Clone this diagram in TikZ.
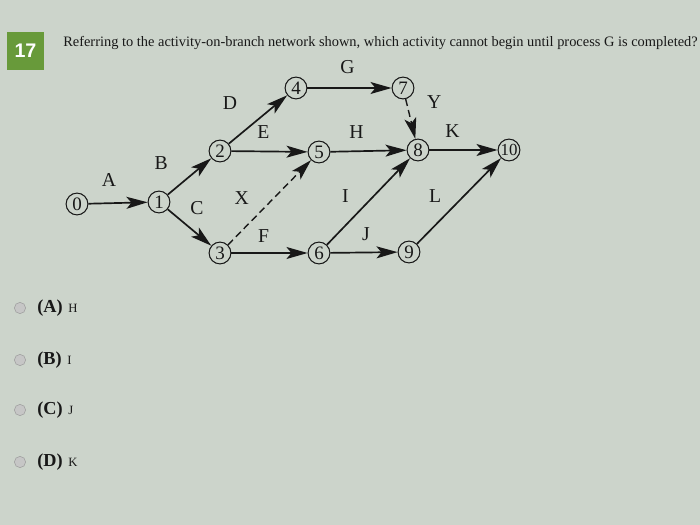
\documentclass[tikz,border=0pt]{standalone}
\usepackage{fontspec}
\setmainfont{Liberation Serif}
\newfontfamily\qsans{Liberation Sans}
\usepackage{xcolor}
\usetikzlibrary{positioning}
\usetikzlibrary{arrows.meta}
\definecolor{photobg}{RGB}{204,212,203}
\definecolor{qgreen}{RGB}{104,154,58}
\definecolor{ink}{RGB}{24,24,24}

\begin{document}
\begin{tikzpicture}[x=0.025cm, y=-0.025cm, auto,
        event/.style={circle, draw=ink, line width=0.75pt, minimum size=15.5pt, inner sep=0pt, text=ink, font=\fontsize{13.5}{13.5}\selectfont},
        activity/.style={draw=ink, line width=1.2pt, -{Stealth[length=15pt, width=8.5pt, inset=3.5pt]}},
        dummy/.style={activity, line width=1pt, dash pattern=on 5pt off 3pt},
        actlabel/.style={text=ink, font=\fontsize{14}{14}\selectfont, inner sep=0pt},
        radio/.style={circle, draw=gray!75, fill=gray!45, minimum size=8pt, inner sep=0pt},
        choice/.style={anchor=west, text=ink, inner sep=0pt, font=\fontsize{13}{13}\selectfont\bfseries}]
        \fill[photobg] (0,0) rectangle (700,525);

        % question header
        \node[fill=qgreen, text=white, minimum size=0.93cm, inner sep=0pt, font=\qsans\fontsize{14}{14}\selectfont\bfseries] (qnum) at (25.5,51) {17};
        \node[anchor=base west, text=ink, inner sep=0pt, font=\fontsize{10.25}{11}\selectfont] (question) at (63,47) {Referring to the activity-on-branch network shown, which activity cannot begin until process G is completed?};

        % events
        \node[event] (ev_0) at (77,204) {0};
        \node[event] (ev_1) at (159,202) {1};
        \node[event] (ev_2) at (220,151) {2};
        \node[event] (ev_3) at (220,253) {3};
        \node[event] (ev_4) at (296,88) {4};
        \node[event] (ev_5) at (319,152) {5};
        \node[event] (ev_6) at (319,253) {6};
        \node[event] (ev_7) at (403,88) {7};
        \node[event] (ev_8) at (418,150) {8};
        \node[event] (ev_9) at (409,252) {9};
        \node[event, font=\fontsize{12}{12}\selectfont] (ev_10) at (509,150) {10};

        % activities
        \draw[activity] (ev_0) -- (ev_1) node[actlabel, midway, shift={(-9,-16)}] {A};
        \draw[activity] (ev_1) -- (ev_2) node[actlabel, midway, shift={(-21,-6)}] {B};
        \draw[activity] (ev_1) -- (ev_3) node[actlabel, midway, shift={(0,-12)}] {C};
        \draw[activity] (ev_2) -- (ev_4) node[actlabel, midway, shift={(-20,-9)}] {D};
        \draw[activity] (ev_2) -- (ev_5) node[actlabel, midway, shift={(-6,-12)}] {E};
        \draw[activity] (ev_3) -- (ev_6) node[actlabel, midway, shift={(-6,-10)}] {F};
        \draw[dummy] (ev_3) -- (ev_5) node[actlabel, midway, shift={(-20,3)}] {X};
        \draw[activity] (ev_4) -- (ev_7) node[actlabel, midway, shift={(-2,-13)}] {G};
        \draw[activity] (ev_5) -- (ev_8) node[actlabel, midway, shift={(-12,-12)}] {H};
        \draw[activity] (ev_6) -- (ev_8) node[actlabel, midway, shift={(-19,2)}] {I};
        \draw[activity] (ev_6) -- (ev_9) node[actlabel, midway, shift={(2,-11)}] {J};
        \draw[dummy] (ev_7) -- (ev_8) node[actlabel, midway, shift={(16,-10)}] {Y};
        \draw[activity] (ev_8) -- (ev_10) node[actlabel, midway, shift={(-11,-12)}] {K};
        \draw[activity] (ev_9) -- (ev_10) node[actlabel, midway, shift={(-17,2)}] {L};

        % answer choices
        \node[radio] (opt_a) at (20,308) {};
        \node[choice] (choice_a) at (37,308) {(A)\hspace{4pt}\mdseries\fontsize{9}{9}\selectfont H};
        \node[radio] (opt_b) at (20,360) {};
        \node[choice] (choice_b) at (37,360) {(B)\hspace{4pt}\mdseries\fontsize{9}{9}\selectfont I};
        \node[radio] (opt_c) at (20,410) {};
        \node[choice] (choice_c) at (37,410) {(C)\hspace{4pt}\mdseries\fontsize{9}{9}\selectfont J};
        \node[radio] (opt_d) at (20,462) {};
        \node[choice] (choice_d) at (37,462) {(D)\hspace{4pt}\mdseries\fontsize{9}{9}\selectfont K};
    \end{tikzpicture}
\end{document}
